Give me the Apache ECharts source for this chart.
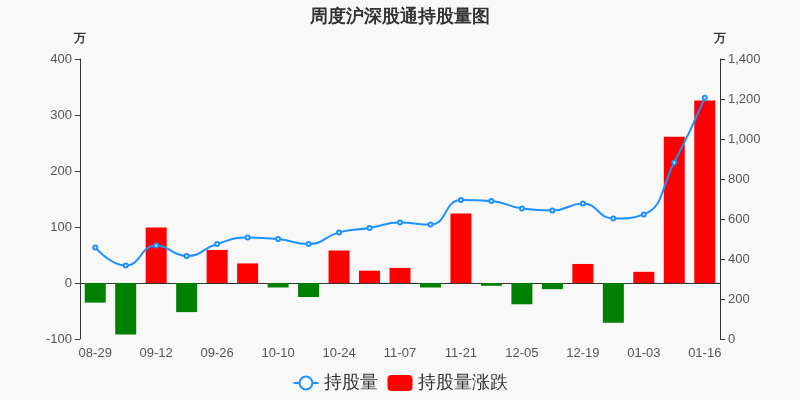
<!DOCTYPE html>
<html>
<head>
<meta charset="utf-8">
<script src="https://cdn.jsdelivr.net/npm/echarts@6/dist/echarts.min.js"></script>
<style>
  html, body { margin: 0; padding: 0; background: #f8f8f8; }
  #chart { width: 800px; height: 400px; }
</style>
</head>
<body>
<div id="chart"></div>
<script>
// 周度日期
const dates = ['08-29', '09-05', '09-12', '09-19', '09-26', '10-03', '10-10', '10-17', '10-24', '10-31', '11-07',
  '11-14', '11-21', '11-28', '12-05', '12-12', '12-19', '12-26', '01-03', '01-09', '01-16'];

// 持股量（万）
const holdings = [458, 367, 467, 415, 475, 508, 500, 475, 533, 555, 582,
  572, 695, 690, 652, 642, 677, 603, 623, 883, 1206];

// 持股量涨跌（万）
const changes = [-35, -92, 99, -52, 59, 35, -8, -25, 58, 22, 27,
  -8, 124, -5, -38, -11, 34, -71, 20, 261, 326];

const leftTicks = { min: -100, max: 400, interval: 100 };
const rightTicks = { min: 0, max: 1400, interval: 200 };

const chart = echarts.init(document.getElementById('chart'));

const barData = changes.map(v => ({
  value: v,
  itemStyle: { color: v >= 0 ? '#ff0000' : '#008000' }
}));

const option = {
  backgroundColor: '#f8f8f8',
  title: {
    text: '周度沪深股通持股量图',
    left: 'center',
    top: 3,
    textStyle: { fontSize: 18, fontWeight: 'bold', color: '#333' }
  },
  legend: {
    bottom: 3,
    itemGap: 10,
    itemWidth: 25,
    itemHeight: 16,
    textStyle: { fontSize: 18, color: '#333' },
    data: [
      { name: '持股量' },
      { name: '持股量涨跌', icon: 'roundRect' }
    ]
  },
  grid: { left: 80, right: 80, top: 59, bottom: 61 },
  xAxis: [
    {
      type: 'category',
      data: dates,
      axisLine: { show: false },
      axisTick: { show: false },
      axisLabel: { interval: 1, color: '#555', fontSize: 13, margin: 8 }
    },
    {
      type: 'category',
      data: dates,
      position: 'bottom',
      axisLine: { onZero: true, onZeroAxisIndex: 0, lineStyle: { color: '#333' } },
      axisTick: { interval: 1, length: 5, lineStyle: { color: '#333' } },
      axisLabel: { show: false }
    }
  ],
  yAxis: [
    {
      type: 'value',
      name: '万',
      nameGap: 14,
      nameTextStyle: { color: '#333', fontWeight: 'bold', fontSize: 12, align: 'center' },
      min: leftTicks.min,
      max: leftTicks.max,
      interval: leftTicks.interval,
      axisLine: { show: true, lineStyle: { color: '#333' } },
      axisTick: { show: true, length: 5 },
      splitLine: { show: false },
      axisLabel: { color: '#555', fontSize: 13 }
    },
    {
      type: 'value',
      name: '万',
      nameGap: 14,
      nameTextStyle: { color: '#333', fontWeight: 'bold', fontSize: 12, align: 'center' },
      min: rightTicks.min,
      max: rightTicks.max,
      interval: rightTicks.interval,
      axisLine: { show: true, lineStyle: { color: '#333' } },
      axisTick: { show: true, length: 5 },
      splitLine: { show: false },
      axisLabel: {
        color: '#555',
        fontSize: 13,
        formatter: v => v.toLocaleString('en-US')
      }
    }
  ],
  series: [
    {
      name: '持股量涨跌',
      type: 'bar',
      xAxisIndex: 0,
      yAxisIndex: 0,
      barWidth: 21,
      color: '#ff0000',
      data: barData
    },
    {
      name: '持股量',
      type: 'line',
      xAxisIndex: 0,
      yAxisIndex: 1,
      smooth: true,
      symbol: 'emptyCircle',
      symbolSize: 4,
      color: '#1e90ff',
      lineStyle: { width: 2 },
      z: 5,
      data: holdings
    }
  ]
};

chart.setOption(option);
</script>
</body>
</html>
